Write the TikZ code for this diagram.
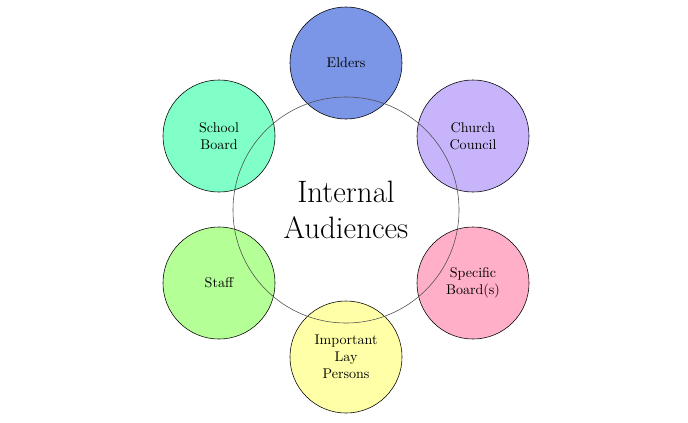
\documentclass[tikz,border=0pt]{standalone}
\usepackage{tikz}
\definecolor{cElders}{HTML}{7B96E6}
\definecolor{cCouncil}{HTML}{C8B4FA}
\definecolor{cBoard}{HTML}{FFB0C8}
\definecolor{cLay}{HTML}{FFFFA8}
\definecolor{cStaff}{HTML}{B4FF96}
\definecolor{cSchool}{HTML}{80FFC8}
\begin{document}
\begin{tikzpicture}[x=0.025cm,y=-0.025cm,
        aud/.style={circle,draw=black,minimum size=2.8cm,align=center,font=\normalsize,text width=2.2cm},
        hub/.style={circle,draw=black!70,minimum size=5.65cm,align=center,font=\fontsize{22}{26}\selectfont}
        ]
        \useasboundingbox (0,0) rectangle (688,422);
        \node[aud,fill=cElders] (eld) at (346,63){Elders};
        \node[aud,fill=cCouncil] (cou) at (473,136){Church\\Council};
        \node[aud,fill=cBoard] (spb) at (473,283){Specific\\Board(s)};
        \node[aud,fill=cLay] (lay) at (346,357){Important\\Lay\\Persons};
        \node[aud,fill=cStaff] (stf) at (219,283){Staff};
        \node[aud,fill=cSchool] (sch) at (219,136){School\\Board};
        \node[hub] (ia) at (346,210){Internal\\Audiences};
    \end{tikzpicture}
\end{document}
